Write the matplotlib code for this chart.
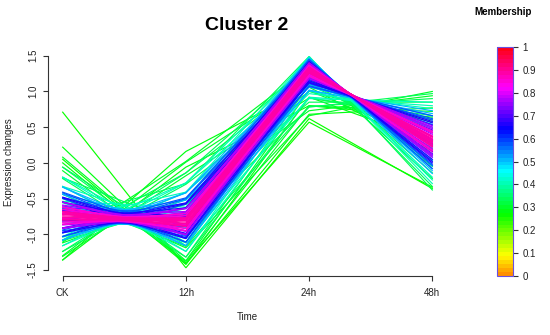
"""
Soft-clustering profile plot (Mfuzz style): one line per gene, coloured by membership.
"""

import matplotlib
matplotlib.use('Agg')
import matplotlib.pyplot as plt
import matplotlib.colors as mcolors
from matplotlib.colorbar import ColorbarBase
import numpy as np

plt.rcParams['font.family'] = ['Liberation Sans', 'DejaVu Sans']
plt.rcParams['axes.unicode_minus'] = False

# ============================================================
# Data: standardised expression of the genes in cluster 2
# ============================================================

time_labels = ['CK', '12h', '24h', '48h']

ck = [0.22, -1.36, -1.36, 0.00, 0.71, 0.05,
      0.08, -0.11, -0.44, -1.12, -1.31, -1.30, -1.11,
      -0.06, -0.06, -0.21, -0.80, -1.08, -1.24, -1.24, -1.09, -0.82, -0.50, -0.22,
      -0.20, -0.20, -0.33, -0.54, -0.80, -1.03, -1.16, -1.16, -1.04, -0.82, -0.56, -0.33,
      -0.34, -0.34, -0.44, -0.61, -0.80, -0.98, -1.08, -1.08, -0.98, -0.82, -0.62, -0.44,
      -0.42, -0.41, -0.49, -0.63, -0.80, -0.94, -1.03, -1.03, -0.95, -0.81, -0.64, -0.50,
      -0.49, -0.48, -0.55, -0.66, -0.79, -0.91, -0.97, -0.98, -0.91, -0.80, -0.67, -0.55,
      -0.55, -0.55, -0.59, -0.68, -0.78, -0.86, -0.91, -0.92, -0.87, -0.78, -0.68, -0.60,
      -0.62, -0.62, -0.65, -0.71, -0.77, -0.83, -0.86, -0.86, -0.83, -0.78, -0.71, -0.65,
      -0.68, -0.68, -0.69, -0.72, -0.76, -0.79, -0.80, -0.80, -0.79, -0.76, -0.72, -0.70,
      -0.74]

h12 = [-1.42, 0.16, -0.06, -1.42, -1.47, -1.40,
       -1.37, -1.38, -1.19, -0.51, -0.18, 0.01, 0.02,
       -1.32, -1.16, -0.88, -0.29, -0.14, -0.14, -0.30, -0.58, -0.90, -1.17, -1.32,
       -1.24, -1.11, -0.88, -0.62, -0.41, -0.28, -0.28, -0.41, -0.64, -0.90, -1.12, -1.24,
       -1.16, -1.06, -0.88, -0.69, -0.52, -0.42, -0.42, -0.52, -0.70, -0.90, -1.06, -1.16,
       -1.11, -1.02, -0.88, -0.71, -0.57, -0.49, -0.50, -0.58, -0.72, -0.89, -1.03, -1.11,
       -1.05, -0.99, -0.87, -0.74, -0.63, -0.56, -0.57, -0.63, -0.75, -0.88, -0.99, -1.06,
       -1.00, -0.95, -0.87, -0.77, -0.68, -0.64, -0.64, -0.69, -0.77, -0.87, -0.96, -1.01,
       -0.95, -0.92, -0.86, -0.80, -0.74, -0.71, -0.71, -0.74, -0.80, -0.87, -0.92, -0.95,
       -0.89, -0.88, -0.85, -0.81, -0.78, -0.77, -0.77, -0.79, -0.81, -0.85, -0.88, -0.89,
       -0.83]

h24 = [0.92, 1.06, 0.80, 0.68, 0.62, 0.57,
       1.01, 0.80, 0.66, 0.73, 0.91, 1.13, 1.34,
       1.09, 1.28, 1.43, 1.49, 1.37, 1.19, 1.00, 0.85, 0.78, 0.79, 0.91,
       1.16, 1.31, 1.43, 1.49, 1.48, 1.39, 1.24, 1.09, 0.97, 0.90, 0.92, 1.01,
       1.21, 1.33, 1.42, 1.47, 1.46, 1.38, 1.27, 1.15, 1.06, 1.01, 1.02, 1.10,
       1.23, 1.33, 1.41, 1.45, 1.44, 1.38, 1.29, 1.19, 1.11, 1.07, 1.08, 1.14,
       1.25, 1.33, 1.39, 1.42, 1.41, 1.37, 1.29, 1.21, 1.15, 1.12, 1.13, 1.17,
       1.27, 1.33, 1.38, 1.40, 1.40, 1.36, 1.31, 1.25, 1.20, 1.18, 1.18, 1.22,
       1.28, 1.32, 1.35, 1.37, 1.36, 1.34, 1.30, 1.26, 1.23, 1.21, 1.22, 1.24,
       1.29, 1.32, 1.33, 1.34, 1.34, 1.32, 1.31, 1.29, 1.27, 1.26, 1.26, 1.28,
       1.30]

h48 = [0.30, 0.16, 0.64, 0.77, -0.36, -0.34,
       0.31, 0.72, 1.00, 0.94, 0.61, 0.19, -0.22,
       0.31, -0.05, -0.33, -0.38, -0.14, 0.21, 0.57, 0.85, 0.97, 0.90, 0.66,
       0.32, 0.03, -0.20, -0.29, -0.24, -0.04, 0.24, 0.53, 0.76, 0.85, 0.80, 0.60,
       0.32, 0.10, -0.08, -0.15, -0.11, 0.04, 0.26, 0.48, 0.66, 0.73, 0.69, 0.54,
       0.32, 0.13, -0.02, -0.08, -0.04, 0.08, 0.26, 0.45, 0.60, 0.66, 0.62, 0.50,
       0.31, 0.16, 0.05, 0.00, 0.02, 0.12, 0.27, 0.42, 0.53, 0.58, 0.56, 0.46,
       0.32, 0.20, 0.12, 0.08, 0.10, 0.18, 0.28, 0.40, 0.48, 0.52, 0.50, 0.43,
       0.31, 0.24, 0.18, 0.15, 0.17, 0.22, 0.29, 0.36, 0.42, 0.45, 0.43, 0.38,
       0.31, 0.27, 0.24, 0.23, 0.23, 0.26, 0.29, 0.33, 0.36, 0.37, 0.37, 0.34,
       0.30]

membership = [0.28, 0.28, 0.28, 0.28, 0.27, 0.27,
              0.30, 0.30, 0.30, 0.30, 0.30, 0.30, 0.30,
              0.34, 0.34, 0.34, 0.34, 0.34, 0.34, 0.34, 0.34, 0.34, 0.34, 0.34,
              0.41, 0.41, 0.41, 0.41, 0.41, 0.41, 0.41, 0.41, 0.41, 0.41, 0.41, 0.41,
              0.50, 0.50, 0.50, 0.50, 0.50, 0.50, 0.50, 0.50, 0.50, 0.50, 0.50, 0.50,
              0.58, 0.58, 0.58, 0.58, 0.58, 0.58, 0.58, 0.58, 0.58, 0.58, 0.58, 0.58,
              0.67, 0.67, 0.67, 0.67, 0.67, 0.67, 0.67, 0.67, 0.67, 0.67, 0.67, 0.67,
              0.77, 0.77, 0.77, 0.77, 0.77, 0.77, 0.77, 0.77, 0.77, 0.77, 0.77, 0.77,
              0.85, 0.85, 0.85, 0.85, 0.85, 0.85, 0.85, 0.85, 0.85, 0.85, 0.85, 0.85,
              0.88, 0.88, 0.88, 0.88, 0.88, 0.88, 0.88, 0.88, 0.88, 0.88, 0.88, 0.88,
              0.89]

# Mfuzz default palette (orange -> green -> blue -> magenta -> red)
colo = ["#FF8F00", "#FFA700", "#FFBF00", "#FFD700", "#FFEF00", "#F7FF00", "#DFFF00",
        "#C7FF00", "#AFFF00", "#97FF00", "#80FF00", "#68FF00", "#50FF00", "#38FF00",
        "#20FF00", "#08FF00", "#00FF10", "#00FF28", "#00FF40", "#00FF58", "#00FF70",
        "#00FF87", "#00FF9F", "#00FFB7", "#00FFCF", "#00FFE7", "#00FFFF", "#00E7FF",
        "#00CFFF", "#00B7FF", "#009FFF", "#0087FF", "#0070FF", "#0058FF", "#0040FF",
        "#0028FF", "#0010FF", "#0800FF", "#2000FF", "#3800FF", "#5000FF", "#6800FF",
        "#8000FF", "#9700FF", "#AF00FF", "#C700FF", "#DF00FF", "#F700FF", "#FF00EF",
        "#FF00D7", "#FF00BF", "#FF00A7", "#FF008F", "#FF0078", "#FF0060", "#FF0048",
        "#FF0030", "#FF0018"]
cmap = mcolors.ListedColormap(colo)
norm = mcolors.Normalize(vmin=0, vmax=1)

# ============================================================
# Figure
# ============================================================

W, H = 550, 335
fig = plt.figure(figsize=(W / 100, H / 100), dpi=100)

# main panel (pixel-measured placement)
ax = fig.add_axes([47.9 / W, 1 - 276.4 / H, 399.2 / W, 228.5 / H])

x = np.arange(1, len(time_labels) + 1)
profiles = np.column_stack([ck, h12, h24, h48])
mem = np.array(membership)

# low membership first so the core of the cluster ends up on top
for i in np.argsort(mem, kind='stable'):
    ax.plot(x, profiles[i], color=cmap(norm(mem[i])), linewidth=0.85,
            solid_joinstyle='miter', zorder=2)

ax.set_xlim(0.88, 4.12)
ax.set_ylim(-1.59, 1.61)

for side in ['top', 'right']:
    ax.spines[side].set_visible(False)
ax.spines['left'].set_bounds(-1.5, 1.5)
ax.spines['bottom'].set_bounds(1, 4)
for side in ['left', 'bottom']:
    ax.spines[side].set_linewidth(0.8)
    ax.spines[side].set_color('#333333')

ax.set_xticks(x)
ax.set_xticklabels(time_labels)
yt = [-1.5, -1.0, -0.5, 0.0, 0.5, 1.0, 1.5]
ax.set_yticks(yt)
ax.set_yticklabels(['%.1f' % v for v in yt], rotation=90, va='center')
ax.tick_params(axis='both', length=3.6, width=0.8, color='#333333',
               labelsize=7, labelcolor='#222222')
ax.tick_params(axis='x', pad=4.5)
ax.tick_params(axis='y', pad=3.5)
ax.patch.set_alpha(0)

# labels and title placed in figure pixels
fig.text(247 / W, 1 - 317 / H, 'Time', ha='center', va='center', fontsize=7,
         color='#222222')
fig.text(9 / W, 1 - 162 / H, 'Expression changes', ha='center', va='center',
         rotation=90, fontsize=7, color='#222222')
fig.text(246.5 / W, 1 - 25 / H, 'Cluster 2', ha='center', va='center',
         fontsize=14, fontweight='bold')

# ============================================================
# Membership colour bar
# ============================================================

cax = fig.add_axes([496.7 / W, 1 - 275.7 / H, 16.6 / W, 228.4 / H])
cb = ColorbarBase(cax, cmap=cmap, norm=norm, orientation='vertical',
                  ticks=np.round(np.arange(0, 1.01, 0.1), 1))
cb.ax.set_yticklabels(['0', '0.1', '0.2', '0.3', '0.4', '0.5', '0.6', '0.7',
                       '0.8', '0.9', '1'])
cb.outline.set_edgecolor('#6a4fe0')
cb.outline.set_linewidth(0.8)
cb.ax.tick_params(length=3.6, width=0.8, color='#333333', labelsize=7,
                  labelcolor='#222222', pad=3)
fig.text(503 / W, 1 - 12 / H, 'Membership', ha='center', va='center',
         fontsize=7, fontweight='bold')

plt.savefig('out.png', dpi=100)
plt.close('all')
